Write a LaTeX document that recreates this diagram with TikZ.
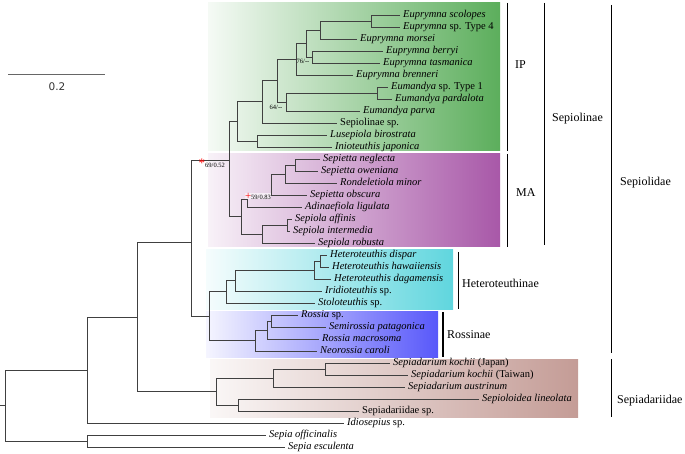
\documentclass[tikz,border=0pt]{standalone}
\usepackage{fontspec}
\setmainfont{Liberation Serif}
\newfontfamily\barfont{DejaVu Sans}

\definecolor{ipgreen}{RGB}{92,174,92}
\definecolor{mapurple}{RGB}{168,88,168}
\definecolor{hetcyan}{RGB}{96,214,222}
\definecolor{rosblue}{RGB}{88,88,250}
\definecolor{sdbrown}{RGB}{196,156,150}

\tikzset{
  branch/.style={draw=black!75, line width=0.8pt},
  leaf/.style={anchor=west, inner xsep=3pt, inner ysep=0pt, text height=7.3pt, text depth=2.1pt, font=\fontsize{10.5}{12}\selectfont},
  clade/.style={anchor=west, inner sep=1pt, font=\fontsize{12}{14}\selectfont},
  cladebar/.style={line width=1.2pt},
  support/.style={anchor=west, inner sep=0pt, font=\fontsize{6.5}{7}\selectfont},
}

\begin{document}
\begin{tikzpicture}[x=1pt,y=-1pt]
        \useasboundingbox (0,0) rectangle (685,454);

        % coloured clade boxes
        \shade [left color=ipgreen!6, right color=ipgreen] (208,3) rectangle (500,151);
        \shade [left color=mapurple!8, right color=mapurple] (208,154) rectangle (500,247);
        \shade [left color=hetcyan!6, right color=hetcyan] (206,250) rectangle (453,309);
        \shade [left color=rosblue!6, right color=rosblue] (206,311) rectangle (438,357);
        \shade [left color=sdbrown!8, right color=sdbrown] (210,359) rectangle (578,417);

        % taxa
        \node [leaf] (scolopes) at (400,15) {\textit{Euprymna scolopes}};
        \node [leaf] (type4) at (400,27) {\textit{Euprymna} sp. Type 4};
        \node [leaf] (morsei) at (357,39) {\textit{Euprymna morsei}};
        \node [leaf] (berryi) at (383,51) {\textit{Euprymna berryi}};
        \node [leaf] (tasmanica) at (380,63) {\textit{Euprymna tasmanica}};
        \node [leaf] (brenneri) at (353,75) {\textit{Euprymna brenneri}};
        \node [leaf] (type1) at (388,87) {\textit{Eumandya} sp. Type 1};
        \node [leaf] (pardalota) at (392,99) {\textit{Eumandya pardalota}};
        \node [leaf] (parva) at (360,111) {\textit{Eumandya parva}};
        \node [leaf] (sepiolinaesp) at (337,123) {Sepiolinae sp.};
        \node [leaf] (lusepiola) at (327,135) {\textit{Lusepiola birostrata}};
        \node [leaf] (inioteuthis) at (332,147) {\textit{Inioteuthis japonica}};
        \node [leaf] (neglecta) at (320,159) {\textit{Sepietta neglecta}};
        \node [leaf] (oweniana) at (318,171) {\textit{Sepietta oweniana}};
        \node [leaf] (rondeletiola) at (337,183) {\textit{Rondeletiola minor}};
        \node [leaf] (obscura) at (307,195) {\textit{Sepietta obscura}};
        \node [leaf] (adinaefiola) at (302,207) {\textit{Adinaefiola ligulata}};
        \node [leaf] (affinis) at (292,219) {\textit{Sepiola affinis}};
        \node [leaf] (intermedia) at (290,231) {\textit{Sepiola intermedia}};
        \node [leaf] (robusta) at (315,243) {\textit{Sepiola robusta}};
        \node [leaf] (dispar) at (327,255) {\textit{Heteroteuthis dispar}};
        \node [leaf] (hawaiiensis) at (329,267) {\textit{Heteroteuthis hawaiiensis}};
        \node [leaf] (dagamensis) at (331,279) {\textit{Heteroteuthis dagamensis}};
        \node [leaf] (iridioteuthis) at (322,291) {\textit{Iridioteuthis} sp.};
        \node [leaf] (stoloteuthis) at (315,303) {\textit{Stoloteuthis} sp.};
        \node [leaf] (rossiasp) at (298,315) {\textit{Rossia} sp.};
        \node [leaf] (semirossia) at (326,327) {\textit{Semirossia patagonica}};
        \node [leaf] (macrosoma) at (319,339) {\textit{Rossia macrosoma}};
        \node [leaf] (neorossia) at (317,351) {\textit{Neorossia caroli}};
        \node [leaf] (kochiij) at (390,363) {\textit{Sepiadarium kochii} (Japan)};
        \node [leaf] (kochiit) at (408,375) {\textit{Sepiadarium kochii} (Taiwan)};
        \node [leaf] (austrinum) at (405,387) {\textit{Sepiadarium austrinum}};
        \node [leaf] (lineolata) at (479,399) {\textit{Sepioloidea lineolata}};
        \node [leaf] (sepiadariidaesp) at (359,411) {Sepiadariidae sp.};
        \node [leaf] (idiosepius) at (344,423) {\textit{Idiosepius} sp.};
        \node [leaf] (officinalis) at (266,435) {\textit{Sepia officinalis}};
        \node [leaf] (esculenta) at (285,447) {\textit{Sepia esculenta}};

        % internal nodes
        \coordinate (e1) at (371,21);
        \coordinate (e2) at (320,30);
        \coordinate (e3) at (312,57);
        \coordinate (e4) at (306,43.5);
        \coordinate (e5) at (296,59.25);
        \coordinate (m1) at (377,93);
        \coordinate (m2) at (286,102);
        \coordinate (e6) at (277,80.6);
        \coordinate (e7) at (262,101.8);
        \coordinate (l1) at (257,141);
        \coordinate (ip) at (237,121.4);
        \coordinate (s1) at (295,165);
        \coordinate (s2) at (285,174);
        \coordinate (s3) at (271,195);
        \coordinate (s4) at (247,199);
        \coordinate (s5) at (287,225);
        \coordinate (s6) at (262,234);
        \coordinate (ma) at (241,216.5);
        \coordinate (sepiolinae) at (229,160);
        \coordinate (h1) at (320,261);
        \coordinate (h2) at (314,270);
        \coordinate (h3) at (235,280.5);
        \coordinate (h4) at (226,291.75);
        \coordinate (r1) at (271,321);
        \coordinate (r2) at (267,330);
        \coordinate (r3) at (255,340.5);
        \coordinate (hr) at (209,316.1);
        \coordinate (sepiolidae) at (191,242.5);
        \coordinate (k1) at (325,369);
        \coordinate (k2) at (273,378);
        \coordinate (k3) at (238,405);
        \coordinate (sd) at (216.5,391.5);
        \coordinate (nb) at (137,317);
        \coordinate (na) at (87,370);
        \coordinate (sepia) at (87,441);
        \coordinate (root) at (5,405.5);
        \coordinate (stub) at (0,405.5);

        % branches
        \draw [branch] (e1) |- (scolopes.west) (e1) |- (type4.west);
        \draw [branch] (e2) |- (e1) (e2) |- (morsei.west);
        \draw [branch] (e3) |- (berryi.west) (e3) |- (tasmanica.west);
        \draw [branch] (e4) |- (e2) (e4) |- (e3);
        \draw [branch] (e5) |- (e4) (e5) |- (brenneri.west);
        \draw [branch] (m1) |- (type1.west) (m1) |- (pardalota.west);
        \draw [branch] (m2) |- (m1) (m2) |- (parva.west);
        \draw [branch] (e6) |- (e5) (e6) |- (m2);
        \draw [branch] (e7) |- (e6) (e7) |- (sepiolinaesp.west);
        \draw [branch] (l1) |- (lusepiola.west) (l1) |- (inioteuthis.west);
        \draw [branch] (ip) |- (e7) (ip) |- (l1);
        \draw [branch] (s1) |- (neglecta.west) (s1) |- (oweniana.west);
        \draw [branch] (s2) |- (s1) (s2) |- (rondeletiola.west);
        \draw [branch] (s3) |- (s2) (s3) |- (obscura.west);
        \draw [branch] (s4) |- (s3) (s4) |- (adinaefiola.west);
        \draw [branch] (s5) |- (affinis.west) (s5) |- (intermedia.west);
        \draw [branch] (s6) |- (s5) (s6) |- (robusta.west);
        \draw [branch] (ma) |- (s4) (ma) |- (s6);
        \draw [branch] (sepiolinae) |- (ip) (sepiolinae) |- (ma);
        \draw [branch] (h1) |- (dispar.west) (h1) |- (hawaiiensis.west);
        \draw [branch] (h2) |- (h1) (h2) |- (dagamensis.west);
        \draw [branch] (h3) |- (h2) (h3) |- (iridioteuthis.west);
        \draw [branch] (h4) |- (h3) (h4) |- (stoloteuthis.west);
        \draw [branch] (r1) |- (rossiasp.west) (r1) |- (semirossia.west);
        \draw [branch] (r2) |- (r1) (r2) |- (macrosoma.west);
        \draw [branch] (r3) |- (r2) (r3) |- (neorossia.west);
        \draw [branch] (hr) |- (h4) (hr) |- (r3);
        \draw [branch] (sepiolidae) |- (sepiolinae) (sepiolidae) |- (hr);
        \draw [branch] (k1) |- (kochiij.west) (k1) |- (kochiit.west);
        \draw [branch] (k2) |- (k1) (k2) |- (austrinum.west);
        \draw [branch] (k3) |- (lineolata.west) (k3) |- (sepiadariidaesp.west);
        \draw [branch] (sd) |- (k2) (sd) |- (k3);
        \draw [branch] (nb) |- (sepiolidae) (nb) |- (sd);
        \draw [branch] (na) |- (nb) (na) |- (idiosepius.west);
        \draw [branch] (sepia) |- (officinalis.west) (sepia) |- (esculenta.west);
        \draw [branch] (root) |- (na) (root) |- (sepia);
        \draw [branch] (stub) -- (root);

        % support values
        \node [support] (bs76) at (296.5,61) {76/-{}-};
        \node [support] (bs64) at (269.5,107.5) {64/-{}-};
        \node [support, anchor=north west] (bs69) at (198.5,158.5) {{\fontsize{13}{13}\selectfont\textcolor{red}{*}}69/0.52};
        \node [support, fill=mapurple!10, inner sep=0.3pt] (bs59) at (244.5,196) {{\fontsize{11}{11}\selectfont\textcolor{red}{+}}59/0.83};

        % clade bars and names
        \draw [cladebar] (507.7,3) -- (507.7,151);
        \draw [cladebar] (507.7,154) -- (507.7,247);
        \draw [cladebar] (544.3,3) -- (544.3,245);
        \draw [cladebar] (611.7,5) -- (611.7,353);
        \draw [cladebar] (458.3,252) -- (458.3,309);
        \draw [cladebar] (443,312) -- (443,357);
        \draw [cladebar] (611.7,359) -- (611.7,417);

        \node [clade] (ipname) at (514,65) {IP};
        \node [clade] (maname) at (515,193) {MA};
        \node [clade] (sepiolinaename) at (551,119) {Sepiolinae};
        \node [clade] (sepiolidaename) at (619,183) {Sepiolidae};
        \node [clade] (hetname) at (461,283) {Heteroteuthinae};
        \node [clade] (rosname) at (446,335) {Rossinae};
        \node [clade] (sdname) at (616,401) {Sepiadariidae};

        % scale bar
        \coordinate (scaleleft) at (8,75);
        \coordinate (scaleright) at (105,75);
        \draw [draw=black!60, line width=1pt] (scaleleft) -- (scaleright);
        \node [font=\barfont\fontsize{10.5}{12}\selectfont, text=black!80] (scalename) at (57,87) {0.2};
\end{tikzpicture}
\end{document}
